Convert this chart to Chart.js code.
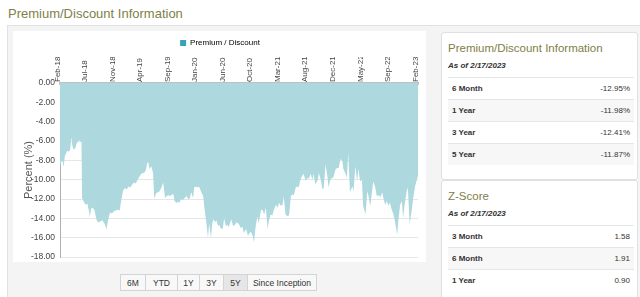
<!DOCTYPE html>
<html>
<head>
<meta charset="utf-8">
<script src="https://cdn.jsdelivr.net/npm/chart.js@4"></script>
<style>
  body { margin: 0; width: 640px; height: 297px; overflow: hidden; background: #fff;
         font-family: "Liberation Sans", Arial, sans-serif; position: relative; }
  .title { position: absolute; left: 8px; top: 6px; font-size: 13px; color: #808047; }
  .panel { position: absolute; left: 7px; top: 25px; width: 640px; height: 280px;
           background: #f4f4f4; border-top: 1px solid #e2e2e2; border-left: 1px solid #e2e2e2; }
  .chartbox { position: absolute; left: 13px; top: 31px; width: 413px; height: 231px; background: #fff; }
  .btns { position: absolute; left: 121px; top: 274px; display: flex; }
  .btns div { height: 17px; line-height: 17px; font-size: 8.5px; color: #333; background: #f8f8f8;
              border: 1px solid #d4d4d4; margin-left: -1px; text-align: center; box-sizing: border-box; }
  .btns div.on { background: #e6e6e6; }
  .card { position: absolute; left: 441px; width: 197px; background: #fff; border: 1px solid #e0e0e0;
          border-radius: 3px; box-sizing: border-box; }
  .card h3 { margin: 0; position: absolute; left: 6px; top: 9px; font-size: 11.5px; font-weight: normal; color: #808047; }
  .card .asof { position: absolute; left: 6px; top: 28px; font-size: 8px; font-style: italic; font-weight: bold; color: #333; }
  .card table { position: absolute; left: 6px; top: 44px; width: 186px; border-collapse: collapse; font-size: 8px; color: #333; }
  .card td { height: 21px; padding: 0 4px; border-top: 1px solid #e6e6e6; }
  .card td.l { font-weight: bold; }
  .card td.r { text-align: right; }
  .card tr.alt td { background: #f7f7f7; }
</style>
</head>
<body>
<div class="title">Premium/Discount Information</div>
<div class="panel"></div>
<div class="chartbox"><canvas id="chart"></canvas></div>
<div class="btns" id="btns"></div>
<div class="card" style="top:32px;height:148px;">
  <h3>Premium/Discount Information</h3>
  <div class="asof">As of 2/17/2023</div>
  <table id="pdTable"></table>
</div>
<div class="card" style="top:180px;height:130px;">
  <h3>Z-Score</h3>
  <div class="asof">As of 2/17/2023</div>
  <table id="zTable"></table>
</div>
<script>
'use strict';

// months since Feb-18 and the premium / discount (%) read at each point
const months = [
  0.0, 0.2, 0.4, 0.6, 0.8, 1.0, 1.2, 1.5, 1.7, 1.9, 2.1, 2.3, 2.6, 2.8, 3.0, 3.2, 3.4, 3.6, 3.7, 4.0,
  4.3, 4.6, 4.9, 5.0, 5.2, 5.5, 5.8, 6.0, 6.2, 6.5, 6.8, 7.1, 7.3, 7.5, 7.8, 8.0, 8.2, 8.4, 8.7, 9.0,
  9.3, 9.7, 10.0, 10.3, 10.6, 10.9, 11.2, 11.5, 11.8, 12.1, 12.4, 12.7, 13.0, 13.2, 13.5, 13.8, 14.1, 14.4, 14.6, 14.8,
  15.0, 15.3, 15.6, 15.8, 16.1, 16.4, 16.7, 17.0, 17.3, 17.6, 17.9, 18.2, 18.5, 18.8, 19.0, 19.2, 19.5, 19.8, 20.0, 20.3,
  20.6, 20.9, 21.2, 21.5, 21.7, 22.0, 22.3, 22.5, 22.8, 23.1, 23.3, 23.7, 24.0, 24.2, 24.5, 24.8, 25.0, 25.3, 25.5, 25.7,
  26.0, 26.2, 26.5, 26.7, 27.0, 27.3, 27.5, 27.8, 28.1, 28.3, 28.7, 29.0, 29.3, 29.6, 30.0, 30.3, 30.6, 30.8, 31.2, 31.5,
  31.8, 32.0, 32.3, 32.5, 32.8, 33.1, 33.3, 33.7, 34.0, 34.2, 34.5, 34.8, 35.0, 35.3, 35.6, 35.8, 36.2, 36.5, 36.7, 37.0,
  37.3, 37.5, 37.8, 38.2, 38.4, 38.7, 39.0, 39.2, 39.5, 39.8, 40.0, 40.3, 40.6, 40.8, 41.2, 41.5, 41.7, 42.0, 42.3, 42.5,
  42.8, 43.2, 43.4, 43.7, 44.0, 44.2, 44.5, 44.8, 45.0, 45.3, 45.6, 45.8, 46.2, 46.5, 46.7, 47.0, 47.3, 47.5, 47.8, 48.1,
  48.3, 48.6, 49.0, 49.2, 49.5, 49.8, 50.0, 50.3, 50.6, 50.8, 51.2, 51.5, 51.7, 52.0, 52.3, 52.5, 52.8, 53.1, 53.4, 53.7,
  54.0, 54.2, 54.5, 54.8, 55.0, 55.3, 55.6, 55.9, 56.2, 56.5, 56.7, 57.0, 57.3, 57.5, 57.8, 58.1, 58.3, 58.6, 58.9, 59.2,
  59.5, 59.8, 60.0
];
const premium = [
  -8.6, -8.2, -8.0, -8.7, -7.6, -7.3, -7.0, -7.1, -6.9, -5.6, -6.6, -6.9, -6.7, -6.2, -6.1, -5.9, -6.1, -6.0, -11.9, -12.3,
  -12.6, -12.5, -13.4, -13.9, -13.0, -12.9, -13.2, -13.8, -14.3, -14.4, -14.3, -14.2, -14.4, -14.6, -15.1, -14.4, -13.8, -13.4, -13.5, -13.3,
  -13.2, -13.1, -13.2, -12.0, -11.1, -10.9, -11.0, -10.7, -10.8, -10.5, -10.3, -10.4, -10.0, -9.8, -9.5, -9.3, -9.3, -9.0, -8.3, -8.2,
  -8.9, -8.6, -9.3, -12.0, -11.4, -11.3, -11.2, -10.8, -10.3, -11.9, -11.7, -11.6, -11.7, -11.5, -11.5, -12.2, -12.4, -12.3, -12.4, -12.0,
  -12.1, -11.9, -11.7, -12.0, -12.0, -11.3, -11.9, -10.8, -10.7, -10.8, -10.7, -11.3, -11.7, -12.9, -14.3, -16.0, -14.5, -16.0, -14.6, -14.1,
  -14.4, -14.2, -14.8, -14.7, -15.1, -15.0, -14.0, -14.8, -14.7, -14.9, -14.1, -14.8, -14.7, -14.4, -14.6, -15.0, -14.9, -15.5, -15.1, -15.8,
  -15.5, -15.4, -15.8, -16.5, -14.8, -13.8, -14.5, -13.1, -13.2, -13.6, -12.9, -15.1, -14.3, -13.6, -13.7, -13.2, -12.6, -12.9, -12.4, -12.7,
  -12.6, -11.7, -13.6, -13.8, -13.6, -11.7, -11.5, -11.6, -10.8, -10.7, -10.8, -10.0, -9.6, -9.4, -10.1, -9.8, -9.9, -9.4, -10.0, -9.4,
  -10.5, -10.0, -9.3, -10.0, -11.0, -10.9, -8.4, -9.6, -10.8, -10.0, -9.8, -9.8, -8.9, -8.8, -8.8, -7.9, -8.0, -8.9, -9.3, -9.8,
  -7.2, -11.3, -10.7, -11.2, -8.6, -10.2, -8.9, -10.2, -10.0, -12.7, -13.6, -11.2, -11.7, -12.7, -11.2, -10.2, -10.7, -11.7, -11.6, -11.8,
  -11.3, -11.9, -12.6, -12.2, -12.7, -12.4, -13.1, -13.6, -14.5, -15.7, -14.3, -12.6, -12.2, -14.0, -12.4, -11.2, -10.8, -14.6, -13.4, -11.9,
  -10.7, -10.0, -9.6
];

const tickLabels = ['Feb-18', 'Jul-18', 'Nov-18', 'Apr-19', 'Sep-19', 'Jan-20', 'Jun-20',
                    'Oct-20', 'Mar-21', 'Aug-21', 'Dec-21', 'May-22', 'Sep-22', 'Feb-23'];

const pdRows = ['6 Month', '1 Year', '3 Year', '5 Year'];
const pdValues = ['-12.95%', '-11.98%', '-12.41%', '-11.87%'];
const zRows = ['3 Month', '6 Month', '1 Year'];
const zValues = ['1.58', '1.91', '0.90'];

const ranges = ['6M', 'YTD', '1Y', '3Y', '5Y', 'Since Inception'];
const rangeWidths = [26, 33, 23, 25, 25, 70];

// side tables
function fillTable(id, rows, values) {
  const t = document.getElementById(id);
  rows.forEach((r, i) => {
    const tr = document.createElement('tr');
    if (i % 2 === 1) tr.className = 'alt';
    tr.innerHTML = '<td class="l">' + r + '</td><td class="r">' + values[i] + '</td>';
    t.appendChild(tr);
  });
}
fillTable('pdTable', pdRows, pdValues);
fillTable('zTable', zRows, zValues);

// range buttons
const btns = document.getElementById('btns');
ranges.forEach((r, i) => {
  const b = document.createElement('div');
  b.textContent = r;
  b.style.width = rangeWidths[i] + 'px';
  if (r === '5Y') b.className = 'on';
  btns.appendChild(b);
});

const canvas = document.getElementById('chart');
canvas.width = 413;
canvas.height = 231;

const span = months[months.length - 1];

new Chart(canvas, {
  type: 'line',
  data: {
    datasets: [{
      label: 'Premium / Discount',
      data: months.map((m, i) => ({ x: m, y: premium[i] })),
      backgroundColor: '#acd8de',
      borderColor: '#acd8de',
      borderWidth: 0,
      pointRadius: 0,
      fill: 'origin',
      tension: 0
    }]
  },
  options: {
    responsive: false,
    animation: false,
    layout: { padding: { left: 9, right: 8, top: 4, bottom: 5 } },
    plugins: {
      tooltip: { enabled: false },
      legend: {
        position: 'top',
        labels: {
          boxWidth: 6,
          boxHeight: 6,
          padding: 4,
          color: '#333',
          font: { family: 'Liberation Sans', size: 8 },
          generateLabels: (chart) => chart.data.datasets.map((ds, i) => ({
            text: ds.label,
            fillStyle: '#35a3b8',
            strokeStyle: '#35a3b8',
            lineWidth: 0,
            datasetIndex: i
          }))
        }
      }
    },
    scales: {
      x: {
        type: 'linear',
        position: 'top',
        min: 0,
        max: span,
        afterBuildTicks: (axis) => {
          axis.ticks = tickLabels.map((_, i) => ({ value: i * span / (tickLabels.length - 1) }));
        },
        afterFit: (axis) => { axis.height = 26; axis.paddingLeft = 0; axis.paddingRight = 0; },
        grid: { display: false, drawTicks: false },
        border: { color: '#c0c0c0', width: 3, dash: [1, 1] },
        ticks: {
          minRotation: 90,
          maxRotation: 90,
          padding: 1,
          labelOffset: 7,
          color: '#444',
          font: { family: 'Liberation Sans', size: 8 },
          callback: (v, i) => tickLabels[i]
        }
      },
      y: {
        min: -18,
        max: 0,
        afterFit: (axis) => { axis.width = 38; axis.paddingBottom = 0; },
        ticks: {
          stepSize: 2,
          color: '#444',
          padding: 5,
          font: { family: 'Liberation Sans', size: 8.5 },
          callback: (v) => v.toFixed(2)
        },
        grid: { color: '#e6e6e6', drawTicks: false },
        border: { color: '#b0b0b0' },
        title: {
          display: true,
          text: 'Percent (%)',
          color: '#555',
          font: { family: 'Liberation Sans', size: 11 },
          padding: { top: 0, bottom: 4 }
        }
      }
    }
  }
});
</script>
</body>
</html>
